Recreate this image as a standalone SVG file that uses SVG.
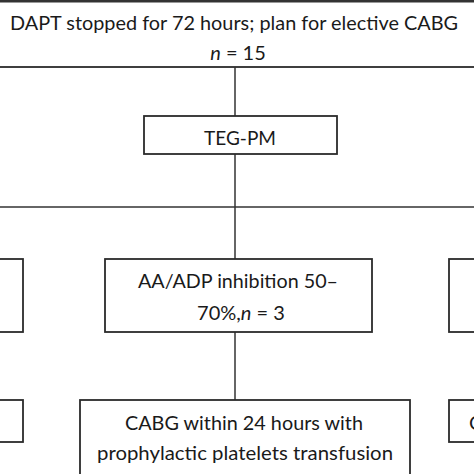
<svg xmlns="http://www.w3.org/2000/svg" width="474" height="474" viewBox="0 0 474 474">
<style>
.box{fill:#fff;stroke:#2b2b2b;stroke-width:1.8}
.ln{stroke:#333;stroke-width:1.5;fill:none}
text{font-family:Lato,"Liberation Sans",Arial,sans-serif;font-size:20px;fill:#1a1a1a;text-anchor:middle}
</style>
<rect width="474" height="474" fill="#fff"/>
<g id="top">
<rect x="-5" y="1" width="484" height="66" class="box"/>
<line x1="0" y1="1" x2="474" y2="1" stroke="#333" stroke-width="3"/>
<text x="234" y="30" textLength="448" lengthAdjust="spacingAndGlyphs">DAPT stopped for 72 hours; plan for elective CABG</text>
<text x="238" y="60"><tspan font-style="italic">n</tspan> = 15</text>
</g>
<g id="connectors">
<line x1="235" y1="67" x2="235" y2="116" class="ln"/>
<line x1="235" y1="154" x2="235" y2="207" class="ln"/>
<line x1="0" y1="207" x2="474" y2="207" class="ln"/>
<line x1="235" y1="207" x2="235" y2="259" class="ln"/>
<line x1="235" y1="332" x2="235" y2="400" class="ln"/>
</g>
<g id="teg">
<rect x="144" y="116" width="193" height="38" class="box"/>
<text x="240" y="145" textLength="72" lengthAdjust="spacingAndGlyphs">TEG-PM</text>
</g>
<g id="left-mid">
<rect x="-10" y="259" width="33" height="73" class="box"/>
</g>
<g id="mid">
<rect x="105" y="259" width="267" height="73" class="box"/>
<text x="238" y="288" textLength="200" lengthAdjust="spacingAndGlyphs">AA/ADP inhibition 50–</text>
<text x="241" y="320">70%,<tspan font-style="italic">n</tspan> = 3</text>
</g>
<g id="right-mid">
<rect x="449" y="259" width="40" height="73" class="box"/>
</g>
<g id="left-bot">
<rect x="-10" y="400" width="33" height="42" class="box"/>
</g>
<g id="bot">
<rect x="80" y="400" width="330" height="80" class="box"/>
<text x="244" y="430" textLength="238" lengthAdjust="spacingAndGlyphs">CABG within 24 hours with</text>
<text x="245" y="460" textLength="296" lengthAdjust="spacingAndGlyphs">prophylactic platelets transfusion</text>
</g>
<g id="right-bot">
<rect x="449" y="400" width="40" height="42" class="box"/>
<text x="469" y="430" style="text-anchor:start">C</text>
</g>
</svg>
